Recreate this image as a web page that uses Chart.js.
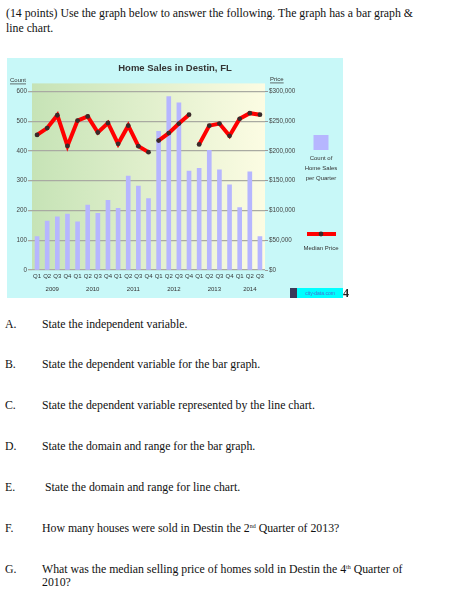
<!DOCTYPE html>
<html>
<head>
<meta charset="utf-8">
<script src="https://cdn.jsdelivr.net/npm/chart.js@4.4.0/dist/chart.umd.min.js"></script>
<style>
  body { margin: 0; width: 453px; height: 604px; background: #fff; position: relative; overflow: hidden;
         font-family: "Liberation Serif", "Times New Roman", serif; color: #111; }
  .intro { position: absolute; left: 6px; top: 6px; font-size: 11.8px; line-height: 15px; width: 445px; }
  #panel { position: absolute; left: 7px; top: 58px; width: 336px; height: 240px; background: #c8f8f8; }
  #panel canvas { display: block; }
  .logo { position: absolute; left: 290px; top: 288px; height: 10px; font-family: "Liberation Sans", sans-serif; }
  .logo .ic { position: absolute; left: 0; top: 0; width: 7px; height: 10px; background: #3a3a5a; }
  .logo .tx { position: absolute; left: 7px; top: 0; width: 46px; height: 10px; background: #00ffff;
              font-size: 5px; line-height: 10px; color: #4a6ad0; text-align: center; }
  .logo .four { position: absolute; left: 53px; top: -2px; font-family: "Liberation Serif", serif; font-size: 12px; font-weight: bold; color: #222; }
  .q { position: absolute; left: 5px; font-size: 11.8px; line-height: 13px; }
  .q span.t { position: absolute; left: 37px; white-space: nowrap; }
  sup { font-size: 6px; vertical-align: 4px; line-height: 0; }
</style>
</head>
<body>

<div class="intro">(14 points) Use the graph below to answer the following. The graph has a bar graph &amp;<br>line chart.</div>

<div id="panel"><canvas id="sales-chart"></canvas></div>
<div class="logo"><div class="ic"></div><div class="tx">city-data.com</div><div class="four">4</div></div>

<div class="q" style="top:318px">A.<span class="t">State the independent variable.</span></div>
<div class="q" style="top:358px">B.<span class="t">State the dependent variable for the bar graph.</span></div>
<div class="q" style="top:399px">C.<span class="t">State the dependent variable represented by the line chart.</span></div>
<div class="q" style="top:440px">D.<span class="t">State the domain and range for the bar graph.</span></div>
<div class="q" style="top:481px">E.<span class="t" style="left:40px">State the domain and range for line chart.</span></div>
<div class="q" style="top:522px">F.<span class="t">How many houses were sold in Destin the 2<sup>nd</sup> Quarter of 2013?</span></div>
<div class="q" style="top:563px">G.<span class="t">What was the median selling price of homes sold in Destin the 4<sup>th</sup> Quarter of<br>2010?</span></div>

<script>
// ── DATA ─────────────────────────────────────────────────────

const quarterLabels = ['Q1','Q2','Q3','Q4','Q1','Q2','Q3','Q4','Q1','Q2','Q3','Q4',
                       'Q1','Q2','Q3','Q4','Q1','Q2','Q3','Q4','Q1','Q2','Q3'];
const yearLabels = ['2009', '2010', '2011', '2012', '2013', '2014'];

// count of home sales per quarter (left axis)
const homeSales = [112, 164, 179, 188, 162, 218, 190, 234, 207, 316, 282, 240,
                   466, 583, 562, 332, 342, 402, 337, 286, 210, 330, 112];

// median price (right axis)
const medianPrice = [227000, 238500, 260000, 208500, 251000, 258000, 231000, 247000,
                     212000, 242500, 208000, 198000, 217500, 230000, 246000, 261000,
                     211000, 242500, 246000, 225500, 254000, 263500, 261000];

// line is not joined after these points
const priceBreaks = [11, 15];

const countTickValues = [0, 100, 200, 300, 400, 500, 600];
const priceTickValues = [0, 50000, 100000, 150000, 200000, 250000, 300000];
const countMax = 627;
const priceMax = 313500;

// ── COLOURS ──────────────────────────────────────────────────

const FONT = '"Liberation Sans", Arial, sans-serif';
const BAR = '#b6b6ff';
const LINE = '#ff0000';
const DOT = '#3a2a2a';

// ── PLOT DECORATION ──────────────────────────────────────────

const decor = {
  id: 'decor',
  beforeDraw(chart) {
    const { ctx, chartArea: a } = chart;
    const g = ctx.createLinearGradient(a.left, 0, a.right, 0);
    g.addColorStop(0, '#c6e3b6');
    g.addColorStop(1, '#fcfce3');
    ctx.save();
    ctx.fillStyle = g;
    ctx.fillRect(a.left, a.top, a.right - a.left, a.bottom - a.top);
    ctx.restore();
  },
  afterDraw(chart) {
    const { ctx, chartArea: a, scales } = chart;
    ctx.save();
    ctx.fillStyle = '#333';
    ctx.strokeStyle = '#333';
    ctx.lineWidth = 0.7;

    // axis titles, underlined
    ctx.font = '6px ' + FONT;
    ctx.textBaseline = 'alphabetic';
    const under = (txt, x, y) => {
      ctx.fillText(txt, x, y);
      const w = ctx.measureText(txt).width;
      ctx.beginPath(); ctx.moveTo(x, y + 1.5); ctx.lineTo(x + w, y + 1.5); ctx.stroke();
    };
    under('Count', 3, a.top - 1);
    under('Price', a.right + 5, a.top - 2);

    // years under the quarter labels
    ctx.font = '6px ' + FONT;
    ctx.textAlign = 'center';
    ctx.textBaseline = 'middle';
    yearLabels.forEach((yr, i) => {
      const first = i * 4;
      const last = Math.min(first + 3, quarterLabels.length - 1);
      const x = scales.x.getPixelForValue((first + last) / 2);
      ctx.fillText(yr, x, a.bottom + 19);
    });

    // legend
    const lx = a.right + 56;
    ctx.fillStyle = BAR;
    ctx.fillRect(lx - 7.5, 77, 15, 15);
    ctx.fillStyle = '#333';
    ctx.font = '6px ' + FONT;
    ['Count of', 'Home Sales', 'per Quarter'].forEach((t, i) => ctx.fillText(t, lx, 100 + i * 10));

    ctx.strokeStyle = LINE;
    ctx.lineWidth = 4;
    ctx.beginPath(); ctx.moveTo(lx - 14, 176); ctx.lineTo(lx + 15, 176); ctx.stroke();
    ctx.fillStyle = DOT;
    ctx.beginPath(); ctx.arc(lx, 176, 2.4, 0, Math.PI * 2); ctx.fill();
    ctx.fillStyle = '#333';
    ctx.fillText('Median Price', lx, 190);
    ctx.restore();
  }
};

// ── CHART ────────────────────────────────────────────────────

function renderSalesChart() {
  const ctx = document.getElementById('sales-chart');
  if (!ctx) return;

  new Chart(ctx, {
    type: 'bar',
    data: {
      labels: quarterLabels,
      datasets: [
        {
          type: 'line',
          label: 'Median Price',
          data: medianPrice,
          yAxisID: 'y1',
          order: 0,
          borderColor: LINE,
          borderWidth: 4,
          tension: 0,
          pointRadius: 2.4,
          pointBackgroundColor: DOT,
          pointBorderWidth: 0,
          segment: {
            borderColor: (c) => priceBreaks.includes(c.p0DataIndex) ? 'rgba(0,0,0,0)' : LINE,
          },
        },
        {
          label: 'Count of Home Sales per Quarter',
          data: homeSales,
          yAxisID: 'y',
          order: 1,
          backgroundColor: BAR,
          barThickness: 4,
        },
      ],
    },
    options: {
      responsive: true,
      maintainAspectRatio: false,
      animation: false,
      layout: { padding: 0 },
      plugins: {
        legend: { display: false },
        tooltip: { enabled: false },
        title: {
          display: true,
          text: 'Home Sales in Destin, FL',
          color: '#333',
          font: { family: FONT, size: 9.5, weight: 'bold' },
          padding: { top: 5, bottom: 9 },
        },
      },
      scales: {
        x: {
          offset: true,
          grid: { display: false, drawTicks: false },
          border: { display: false },
          ticks: { color: '#333', font: { family: FONT, size: 6 }, maxRotation: 0, autoSkip: false, padding: 3 },
          afterFit: (s) => { s.height = 28; },
        },
        y: {
          position: 'left',
          min: 0,
          max: countMax,
          border: { display: false },
          grid: { color: '#a9aaa2', lineWidth: 1.3, tickLength: 4 },
          ticks: { color: '#444', font: { family: FONT, size: 6.3 }, padding: 1 },
          afterBuildTicks: (s) => { s.ticks = countTickValues.map(v => ({ value: v })); },
          afterFit: (s) => { s.width = 25; },
        },
        y1: {
          position: 'right',
          min: 0,
          max: priceMax,
          border: { display: false },
          grid: { drawOnChartArea: false, color: '#999', tickLength: 3 },
          ticks: {
            color: '#444',
            font: { family: FONT, size: 6.3 },
            padding: 1,
            callback: (v) => '$' + v.toLocaleString('en-US'),
          },
          afterBuildTicks: (s) => { s.ticks = priceTickValues.map(v => ({ value: v })); },
          afterFit: (s) => { s.width = 78; },
        },
      },
    },
    plugins: [decor],
  });
}

document.addEventListener('DOMContentLoaded', renderSalesChart);
</script>
</body>
</html>
